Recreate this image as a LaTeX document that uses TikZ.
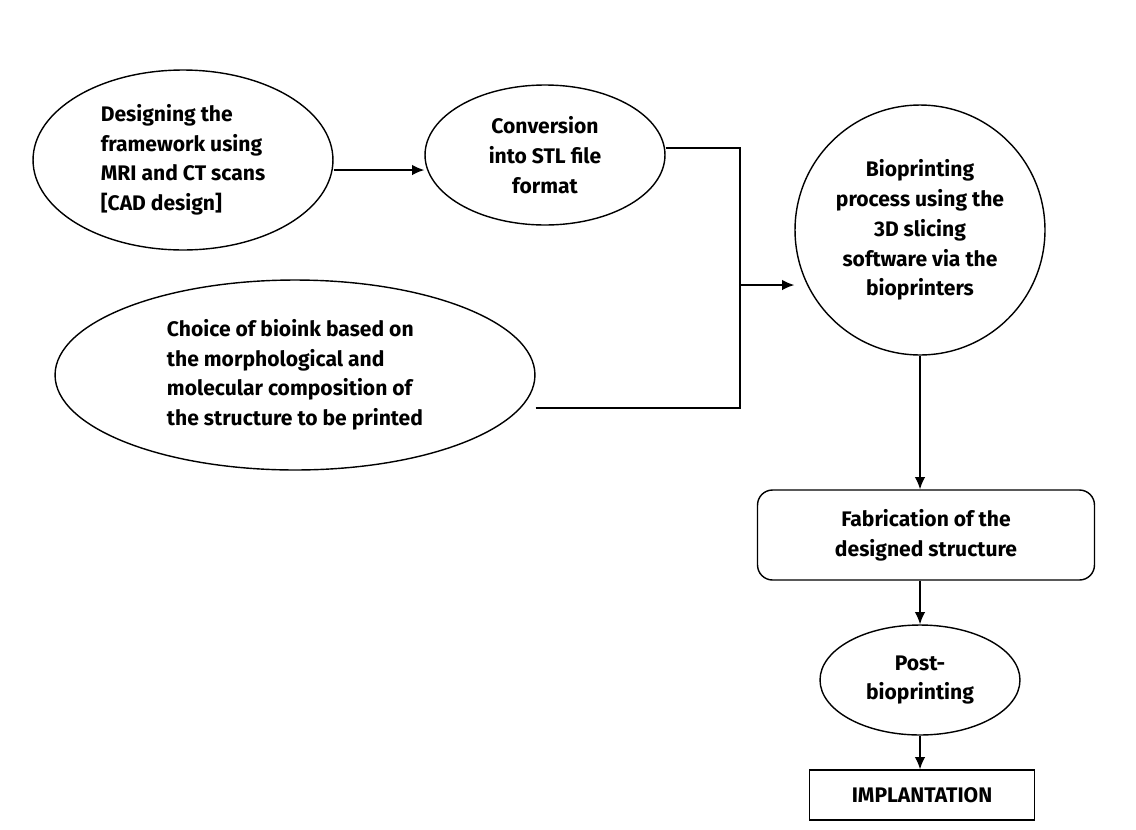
\documentclass[tikz,border=0pt]{standalone}
\usepackage{fontspec}
\setmainfont{Fira Sans}
\usetikzlibrary{shapes.geometric,arrows.meta}
\begin{document}
\begin{tikzpicture}[x=0.02cm,y=-0.02cm,thick,
    font=\bfseries\fontsize{12}{17}\selectfont]
    %
    % `oval' is used for the steps drawn as ellipses.
    % `box' is used for the boxed steps.
    \tikzstyle{oval} = [draw,ellipse,inner sep=0pt,align=center]
    \tikzstyle{box} = [draw,rectangle,align=center]
    \tikzstyle{flow} = [-{Latex[length=7pt,width=6pt]}]
    %
    \useasboundingbox (0,0) rectangle (1136,829);
    %
    % Left column
    \node[oval,minimum width=6cm,minimum height=3.6cm] (design) at (183,160)
        {\begin{tabular}{@{}l@{}}Designing the\\framework using\\MRI and CT scans\\{[CAD design]}\end{tabular}};
    \node[oval,minimum width=4.8cm,minimum height=2.8cm] (stl) at (545,155)
        {Conversion\\into STL file\\format};
    \node[oval,minimum width=9.6cm,minimum height=3.8cm] (bioink) at (295,375)
        {\begin{tabular}{@{}l@{}}Choice of bioink based on\\the morphological and\\molecular composition of\\the structure to be printed\end{tabular}};
    %
    % Right column
    \node[oval,minimum width=5cm,minimum height=5cm] (print) at (920,230)
        {Bioprinting\\process using the\\3D slicing\\software via the\\bioprinters};
    \node[box,rounded corners=3mm,minimum width=6.74cm,minimum height=1.8cm] (fab) at (926,535)
        {Fabrication of the\\designed structure};
    \node[oval,minimum width=4cm,minimum height=2.2cm] (post) at (920,680)
        {Post-\\bioprinting};
    \node[box,minimum width=4.5cm,minimum height=1cm] (implant) at (922,795)
        {IMPLANTATION};
    %
    % Connectors
    \coordinate (join) at (740,285);
    \draw[flow] (design.east |- 0,170) -- (stl.west |- 0,170);
    \draw (stl.east |- 0,148) -| (join);
    \draw (bioink.east |- 0,408) -| (join);
    \draw[flow] (join) -- (print.west |- join);
    \draw[flow] (print.south) -- (print.south |- fab.north);
    \draw[flow] (post.north |- fab.south) -- (post.north);
    \draw[flow] (post.south) -- (post.south |- implant.north);
\end{tikzpicture}
\end{document}
